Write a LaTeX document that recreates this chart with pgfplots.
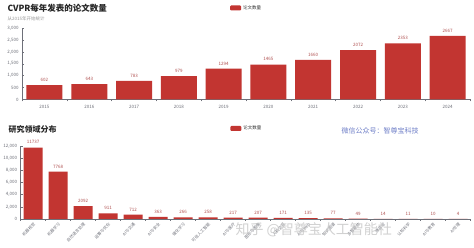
\documentclass[border=0pt]{standalone}
\usepackage{pgfplots}
\pgfplotsset{compat=1.18}
\usepackage{fontspec}
\setmainfont{Noto Sans CJK SC}
\definecolor{barred}{HTML}{C23531}
\definecolor{lblred}{HTML}{B05050}
\definecolor{axgray}{HTML}{6E7079}
\definecolor{wxblue}{HTML}{6F7FC8}
\begin{document}
\begin{tikzpicture}
\path[fill=white] (0bp,0bp) rectangle (474bp,-248bp);
% titles
\node[anchor=west,font=\fontsize{8.5bp}{10bp}\selectfont\bfseries,text=black!85] at (4bp,-8.5bp) {CVPR每年发表的论文数量};
\node[anchor=west,font=\fontsize{4.5bp}{5bp}\selectfont,text=gray!80] at (4bp,-19bp) {从2015年开始统计};
\node[anchor=west,font=\fontsize{8bp}{10bp}\selectfont\bfseries,text=black!85] at (5bp,-129bp) {研究领域分布};
\node[anchor=west,font=\fontsize{7bp}{8bp}\selectfont,text=wxblue] at (338bp,-131bp) {微信公众号：智尊宝科技};
\pgfplotsset{
  every axis/.append style={
    scale only axis,
    /pgf/number format/assume math mode=true,
    axis line style={axgray,line width=0.4bp},
    tick style={axgray,line width=0.4bp},
    tick label style={font=\fontsize{4.5bp}{5bp}\selectfont,text=axgray},
    axis x line*=bottom, axis y line*=left,
    ymin=0,
    scaled y ticks=false,
    ybar, bar shift=0pt,
    enlarge y limits=false,
    nodes near coords,
    nodes near coords style={font=\fontsize{4.5bp}{5bp}\selectfont,text=lblred,/pgf/number format/assume math mode=true,/pgf/number format/fixed,/pgf/number format/1000 sep={}},
    major x tick style={draw=none},
    minor tick length=2bp,
    major tick length=2bp,
    legend style={draw=none,fill=none,font=\fontsize{4.5bp}{5bp}\selectfont,text=black!80,inner sep=0pt,legend cell align=left},
    area legend,
  }
}
\begin{axis}[
  at={(22bp,-99.5bp)}, anchor=south west,
  width=448bp, height=71.5bp,
  xmin=-0.5, xmax=9.5, ymax=3000,
  ytick={0,500,...,3000},
  xtick={0,...,9},
  xticklabels={2015,2016,2017,2018,2019,2020,2021,2022,2023,2024},
  minor xtick={-0.5,0.5,...,9.5},
  bar width=36bp,
  legend style={at={(0.464,1.28)},anchor=west},
  legend image code/.code={\fill[barred,rounded corners=1bp] (0bp,-2.5bp) rectangle (11bp,2.5bp);},
]
\addplot[fill=barred,draw=none] coordinates {(0,602) (1,643) (2,783) (3,979) (4,1294) (5,1465) (6,1660) (7,2072) (8,2353) (9,2667)};
\addlegendentry{论文数量}
\end{axis}
\begin{axis}[
  at={(20.5bp,-219bp)}, anchor=south west,
  width=450bp, height=73bp,
  xmin=-0.5, xmax=17.5, ymax=12000,
  ytick={0,2000,...,12000},
  xtick={0,...,17},
  xticklabels={机器视觉,机器学习,自然语言处理,运筹与优化,AI与交通,AI与安全,强化学习,可信人工智能,AI与医疗,图形与图像,人机交互,AI与Web,知识图谱,多智能体,博弈论,认知科学,AI与教育,AI伦理},
  x tick label style={rotate=45,anchor=north east,font=\fontsize{4bp}{4.5bp}\selectfont,inner sep=1pt},
  minor xtick={-0.5,0.5,...,17.5},
  bar width=19bp,
  legend style={at={(0.466,1.24)},anchor=west},
  legend image code/.code={\fill[barred,rounded corners=1bp] (0bp,-2.5bp) rectangle (11bp,2.5bp);},
]
\addplot[fill=barred,draw=none] coordinates {(0,11737) (1,7768) (2,2092) (3,911) (4,712) (5,363) (6,266) (7,258) (8,217) (9,207) (10,171) (11,135) (12,77) (13,49) (14,14) (15,11) (16,10) (17,4)};
\addlegendentry{论文数量}
\end{axis}
\node[anchor=west,font=\fontsize{14bp}{16bp}\selectfont,text=gray!45,opacity=0.8] at (232bp,-230bp) {知乎 @智尊宝人工智能社};
\end{tikzpicture}
\end{document}
